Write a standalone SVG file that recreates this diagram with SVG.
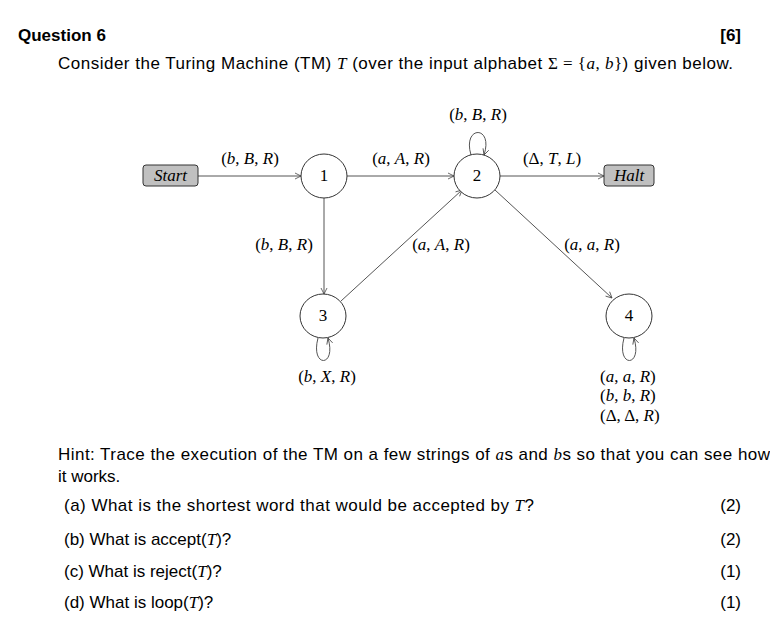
<svg xmlns="http://www.w3.org/2000/svg" width="770" height="634" viewBox="0 0 770 634">
<style>
.t{font-family:"Liberation Sans",Arial,sans-serif;font-size:17px;fill:#000}
.m{font-family:"Liberation Serif","Times New Roman",serif;font-size:17px;fill:#000}
.i{font-style:italic}
.n{fill:#fff;stroke:#333;stroke-width:1}
.e{fill:none;stroke:#555;stroke-width:1}
.b{fill:#c0c0c0;stroke:#333;stroke-width:1}
</style>
<defs><marker id="a" markerWidth="8" markerHeight="8" refX="7" refY="4" orient="auto" markerUnits="userSpaceOnUse"><path d="M1,1 L7,4 L1,7" fill="none" stroke="#444" stroke-width="0.8"/></marker></defs>
<rect width="770" height="634" fill="#fff"/>
<text class="t" x="18" y="41" font-weight="bold">Question 6</text>
<text class="t" x="741" y="41" font-weight="bold" text-anchor="end">[6]</text>
<text class="t" x="58" y="69" textLength="675" lengthAdjust="spacing">Consider the Turing Machine (TM) <tspan class="m i">T</tspan> (over the input alphabet <tspan class="m">Σ = {<tspan class="i">a</tspan>, <tspan class="i">b</tspan>}</tspan>) given below.</text>
<g id="edges">
<line class="e" x1="198" y1="176" x2="301" y2="176" marker-end="url(#a)"/>
<line class="e" x1="347" y1="176" x2="454" y2="176" marker-end="url(#a)"/>
<line class="e" x1="500" y1="176" x2="604" y2="176" marker-end="url(#a)"/>
<line class="e" x1="324" y1="198" x2="324" y2="294" marker-end="url(#a)"/>
<line class="e" x1="341" y1="301" x2="462" y2="190" marker-end="url(#a)"/>
<line class="e" x1="495" y1="190" x2="612" y2="298" marker-end="url(#a)"/>
<path class="e" d="M471,155 C462,125 494,125 484,155" marker-end="url(#a)"/>
<path class="e" d="M318,338 C310,368 337,368 328,338" marker-end="url(#a)"/>
<path class="e" d="M624,338 C616,368 643,368 634,338" marker-end="url(#a)"/>
</g>
<g id="start"><rect class="b" x="143" y="165" width="55" height="21" rx="3"/><text class="m i" x="170.5" y="181" text-anchor="middle">Start</text></g>
<g id="halt"><rect class="b" x="604" y="165" width="50" height="21" rx="3"/><text class="m i" x="629" y="181" text-anchor="middle">Halt</text></g>
<g id="n1"><ellipse class="n" cx="324" cy="176" rx="23" ry="22"/><text class="m" x="324" y="181" text-anchor="middle" font-size="14">1</text></g>
<g id="n2"><ellipse class="n" cx="477" cy="176" rx="23" ry="22"/><text class="m" x="477" y="181" text-anchor="middle" font-size="14">2</text></g>
<g id="n3"><ellipse class="n" cx="323" cy="316" rx="23" ry="22"/><text class="m" x="323" y="321" text-anchor="middle" font-size="14">3</text></g>
<g id="n4"><ellipse class="n" cx="629" cy="316" rx="23" ry="22"/><text class="m" x="629" y="321" text-anchor="middle" font-size="14">4</text></g>
<g id="labels">
<text class="m" x="250" y="164" text-anchor="middle">(<tspan class="i">b</tspan>, <tspan class="i">B</tspan>, <tspan class="i">R</tspan>)</text>
<text class="m" x="401" y="164" text-anchor="middle">(<tspan class="i">a</tspan>, <tspan class="i">A</tspan>, <tspan class="i">R</tspan>)</text>
<text class="m" x="478" y="120" text-anchor="middle">(<tspan class="i">b</tspan>, <tspan class="i">B</tspan>, <tspan class="i">R</tspan>)</text>
<text class="m" x="552" y="164" text-anchor="middle">(Δ, <tspan class="i">T</tspan>, <tspan class="i">L</tspan>)</text>
<text class="m" x="284" y="250" text-anchor="middle">(<tspan class="i">b</tspan>, <tspan class="i">B</tspan>, <tspan class="i">R</tspan>)</text>
<text class="m" x="441" y="250" text-anchor="middle">(<tspan class="i">a</tspan>, <tspan class="i">A</tspan>, <tspan class="i">R</tspan>)</text>
<text class="m" x="592" y="250" text-anchor="middle">(<tspan class="i">a</tspan>, <tspan class="i">a</tspan>, <tspan class="i">R</tspan>)</text>
<text class="m" x="327" y="382" text-anchor="middle">(<tspan class="i">b</tspan>, <tspan class="i">X</tspan>, <tspan class="i">R</tspan>)</text>
<text class="m" x="600" y="382">(<tspan class="i">a</tspan>, <tspan class="i">a</tspan>, <tspan class="i">R</tspan>)</text>
<text class="m" x="600" y="401">(<tspan class="i">b</tspan>, <tspan class="i">b</tspan>, <tspan class="i">R</tspan>)</text>
<text class="m" x="600" y="421">(Δ, Δ, <tspan class="i">R</tspan>)</text>
</g>
<text class="t" x="58" y="460" textLength="712" lengthAdjust="spacing">Hint: Trace the execution of the TM on a few strings of <tspan class="m i">a</tspan>s and <tspan class="m i">b</tspan>s so that you can see how</text>
<text class="t" x="58" y="482">it works.</text>
<text class="t" x="64" y="511" textLength="470" lengthAdjust="spacing">(a)  What is the shortest word that would be accepted by <tspan class="m i">T</tspan>?</text>
<text class="t" x="64" y="545">(b)  What is accept(<tspan class="m i">T</tspan>)?</text>
<text class="t" x="64" y="577">(c)  What is reject(<tspan class="m i">T</tspan>)?</text>
<text class="t" x="64" y="608">(d)  What is loop(<tspan class="m i">T</tspan>)?</text>
<text class="t" x="741" y="511" text-anchor="end">(2)</text>
<text class="t" x="741" y="545" text-anchor="end">(2)</text>
<text class="t" x="741" y="577" text-anchor="end">(1)</text>
<text class="t" x="741" y="608" text-anchor="end">(1)</text>
</svg>
